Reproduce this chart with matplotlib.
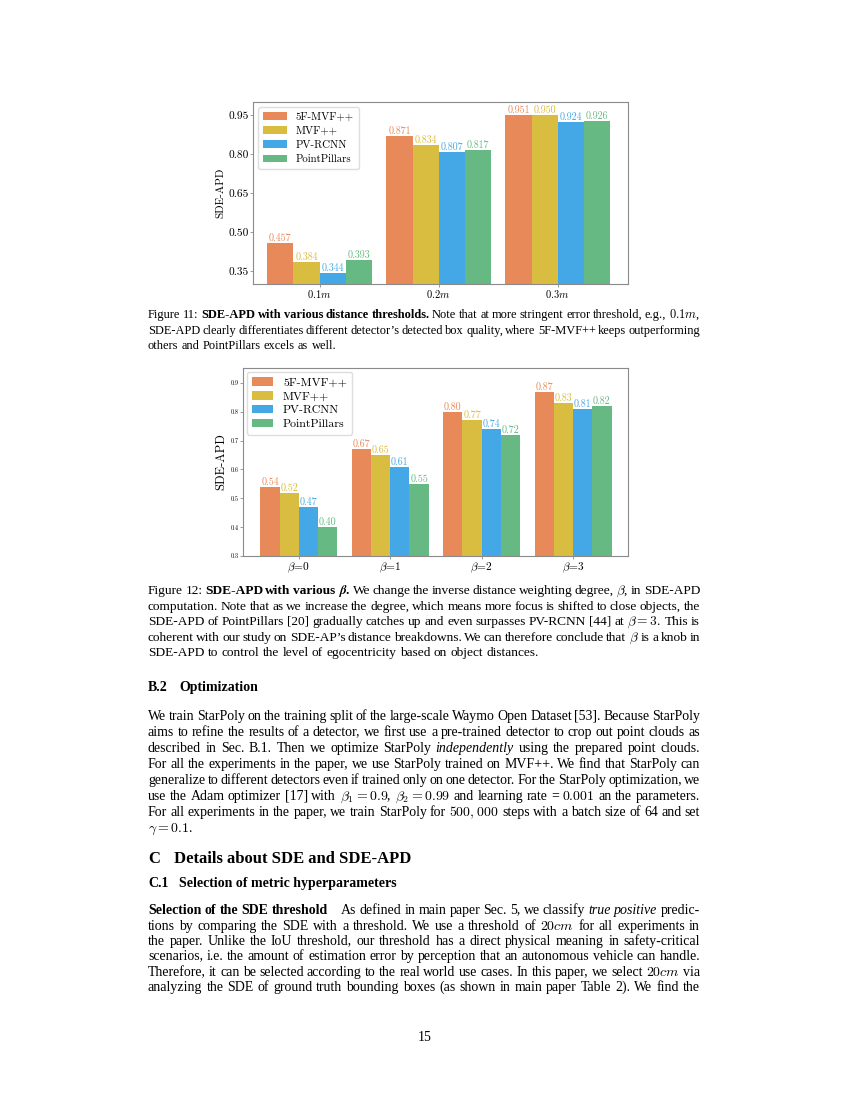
import math
import matplotlib
matplotlib.use("Agg")
import matplotlib.pyplot as plt
import numpy as np

plt.rcParams['mathtext.fontset'] = 'cm'
plt.rcParams['axes.unicode_minus'] = False

# ---------------- data ----------------
models = ["5F-MVF++", "MVF++", "PV-RCNN", "PointPillars"]
colors = ["#E8895A", "#D9BD40", "#45A8E6", "#66B983"]

thr_labels = ["0.1$m$", "0.2$m$", "0.3$m$"]
thr_values = {
    "5F-MVF++":     [0.457, 0.871, 0.951],
    "MVF++":        [0.384, 0.834, 0.950],
    "PV-RCNN":      [0.344, 0.807, 0.924],
    "PointPillars": [0.393, 0.817, 0.926],
}
thr_yticks = [0.35, 0.50, 0.65, 0.80, 0.95]

beta_labels = [r"$\beta\!=\!0$", r"$\beta\!=\!1$", r"$\beta\!=\!2$", r"$\beta\!=\!3$"]
beta_values = {
    "5F-MVF++":     [0.54, 0.67, 0.80, 0.87],
    "MVF++":        [0.52, 0.65, 0.77, 0.83],
    "PV-RCNN":      [0.47, 0.61, 0.74, 0.81],
    "PointPillars": [0.40, 0.55, 0.72, 0.82],
}
beta_yticks = [0.3, 0.4, 0.5, 0.6, 0.7, 0.8, 0.9]

W, H = 850, 1100
fig = plt.figure(figsize=(8.5, 11), dpi=100)
CHART_FONT = 'cmr10'

def style_axes(ax):
    for s in ax.spines.values():
        s.set_color('#8a8a8a')
        s.set_linewidth(0.8)
    ax.tick_params(length=2, width=0.6, color='#8a8a8a', pad=1.2)

def grouped(ax, labels, values, width, fmt, lab_fs, tick_fs, xt_fs, yticks, ylim, xlim,
            leg_fs, handlelength, ylab_fs, tick_fmt, labelspacing, borderaxespad):
    x = np.arange(len(labels))
    n = len(models)
    for i, m in enumerate(models):
        off = (i - (n - 1) / 2) * width
        bars = ax.bar(x + off, values[m], width, color=colors[i], label=m, zorder=2)
        lbls = ax.bar_label(bars, fmt=fmt, padding=0, color=colors[i], fontsize=lab_fs)
        for t in lbls:
            t.set_family(CHART_FONT)
    ax.set_xticks(x)
    ax.set_xticklabels(labels, fontsize=xt_fs, family=CHART_FONT)
    ax.set_yticks(yticks)
    ax.set_yticklabels([tick_fmt.format(v) for v in yticks], fontsize=tick_fs, family=CHART_FONT)
    ax.set_ylim(*ylim)
    ax.set_xlim(*xlim)
    ax.set_ylabel("SDE-APD", fontsize=ylab_fs, family=CHART_FONT, labelpad=2)
    style_axes(ax)
    leg = ax.legend(loc='upper left', prop={'family': CHART_FONT, 'size': leg_fs},
                    handlelength=handlelength, handleheight=0.75, framealpha=1,
                    edgecolor='#dddddd', borderpad=0.45, labelspacing=labelspacing,
                    borderaxespad=borderaxespad)
    leg.set_zorder(5)
    return ax

ax1 = fig.add_axes([253 / W, 1 - 284 / H, 375 / W, 182 / H])
grouped(ax1, thr_labels, thr_values, 0.22, '%.3f', 7.2, 8.2, 7.6, thr_yticks,
        (0.30, 1.0), (-0.56, 2.59), 7.8, 2.2, 8.0, "{:.2f}", 0.4, 0.5)

ax2 = fig.add_axes([243 / W, 1 - 556 / H, 385 / W, 188 / H])
grouped(ax2, beta_labels, beta_values, 0.21, '%.2f', 7.2, 4.5, 8.2, beta_yticks,
        (0.30, 0.952), (-0.61, 3.60), 8.6, 1.8, 9.0, "{:.1f}", 0.28, 0.3)

# ---------------- page text ----------------
FONT = 'Liberation Serif'
renderer = fig.canvas.get_renderer()
X0, X1 = 148, 700
try:
    from matplotlib.backends.backend_agg import get_hinting_flag
except Exception:
    get_hinting_flag = None

def split_words(s):
    words, cur, inm = [], '', False
    for ch in s:
        if ch == '$':
            inm = not inm
            cur += ch
        elif ch == ' ' and not inm:
            if cur:
                words.append(cur)
                cur = ''
        else:
            cur += ch
    if cur:
        words.append(cur)
    return words

def make_text(s, style, size):
    kw = dict(family=FONT, fontsize=size, va='baseline', ha='left', color='black')
    if style == 'b':
        kw['weight'] = 'bold'
    elif style == 'i':
        kw['style'] = 'italic'
    return fig.text(0, 0, s, **kw)

def tw(t):
    return t.get_window_extent(renderer).width

def baseline_y(t, Y0):
    """Compensate Agg's rounding of the glyph descent so words share one baseline."""
    s = t.get_text()
    if '$' in s or get_hinting_flag is None:
        return Y0
    try:
        font = renderer._prepare_font(t.get_fontproperties())
        font.set_text(s, 0, flags=get_hinting_flag())
        b = font.get_descent() / 64.0
        w, h = font.get_width_height()
        a = h / 64.0 - b
        return Y0 + math.floor(a + b) - math.floor(a) - b
    except Exception:
        return Y0

def layout(segments, size):
    items = []
    for seg in segments:
        if seg[1] == 'gap':
            if items:
                items[-1][2] += seg[2]
            continue
        for w in split_words(seg[0]):
            t = make_text(w, seg[1], size)
            items.append([t, tw(t), 0.0])
    return items

def fit_size(lines, size0, min_gap, x0=X0, x1=X1):
    scale = 1.0
    for segs in lines:
        items = layout(segs, size0)
        total = sum(it[1] for it in items) + sum(it[2] for it in items[:-1])
        ngaps = len(items) - 1
        for it in items:
            it[0].remove()
        avail = (x1 - x0) - ngaps * min_gap
        scale = min(scale, avail / total)
    return round(size0 * scale, 2)

def draw_line(y, segments, justify=True, size=10, x0=X0, x1=X1):
    items = layout(segments, size)
    total = sum(it[1] for it in items) + sum(it[2] for it in items[:-1])
    ngaps = len(items) - 1
    a = make_text('a a', 'n', size)
    b = make_text('aa', 'n', size)
    space = tw(a) - tw(b)
    a.remove(); b.remove()
    if justify and ngaps > 0:
        gap = (x1 - x0 - total) / ngaps
    else:
        gap = space
    x = x0
    Y0 = round(y)
    for it in items:
        yy = baseline_y(it[0], Y0)
        it[0].set_position((x / W, 1 - yy / H))
        x += it[1] + gap + it[2]

cap11 = [
    [("Figure 11:", 'n'), ("SDE-APD with various distance thresholds.", 'b'),
     ("Note that at more stringent error threshold, e.g., $0.1m$,", 'n')],
    [("SDE-APD clearly differentiates different detector\u2019s detected box quality, where 5F-MVF++ keeps outperforming", 'n')],
    [("others and PointPillars excels as well.", 'n')],
]
ys11 = [318, 334, 349]

cap12 = [
    [("Figure 12:", 'n'), ("SDE-APD with various $\\boldsymbol{\\beta}$.", 'b'),
     ("We change the inverse distance weighting degree, $\\beta$, in SDE-APD", 'n')],
    [("computation. Note that as we increase the degree, which means more focus is shifted to close objects, the", 'n')],
    [("SDE-APD of PointPillars [20] gradually catches up and even surpasses PV-RCNN [44] at $\\beta = 3$. This is", 'n')],
    [("coherent with our study on SDE-AP\u2019s distance breakdowns. We can therefore conclude that $\\beta$ is a knob in", 'n')],
    [("SDE-APD to control the level of egocentricity based on object distances.", 'n')],
]
ys12 = [594, 610, 625, 641, 656]

b2 = [
    [("We train StarPoly on the training split of the large-scale Waymo Open Dataset [53]. Because StarPoly", 'n')],
    [("aims to refine the results of a detector, we first use a pre-trained detector to crop out point clouds as", 'n')],
    [("described in Sec. B.1. Then we optimize StarPoly", 'n'), ("independently", 'i'),
     ("using the prepared point clouds.", 'n')],
    [("For all the experiments in the paper, we use StarPoly trained on MVF++. We find that StarPoly can", 'n')],
    [("generalize to different detectors even if trained only on one detector. For the StarPoly optimization, we", 'n')],
    [("use the Adam optimizer [17] with $\\beta_1 = 0.9$, $\\beta_2 = 0.99$ and learning rate = $0.001$ an the parameters.", 'n')],
    [("For all experiments in the paper, we train StarPoly for $500,000$ steps with a batch size of 64 and set", 'n')],
    [("$\\gamma = 0.1$.", 'n')],
]
ysb2 = [720 + 16 * i for i in range(8)]

c1 = [
    [("Selection of the SDE threshold", 'b'), ('', 'gap', 10),
     ("As defined in main paper Sec. 5, we classify", 'n'), ("true positive", 'i'), ("predic-", 'n')],
    [("tions by comparing the SDE with a threshold. We use a threshold of $20cm$ for all experiments in", 'n')],
    [("the paper. Unlike the IoU threshold, our threshold has a direct physical meaning in safety-critical", 'n')],
    [("scenarios, i.e. the amount of estimation error by perception that an autonomous vehicle can handle.", 'n')],
    [("Therefore, it can be selected according to the real world use cases. In this paper, we select $20cm$ via", 'n')],
    [("analyzing the SDE of ground truth bounding boxes (as shown in main paper Table 2). We find the", 'n')],
]
ysc1 = [914, 930, 945, 960, 976, 991]

for lines, ys, last_just in [(cap11, ys11, False), (cap12, ys12, False),
                             (b2, ysb2, False), (c1, ysc1, True)]:
    size = min(10.0, fit_size(lines[:-1] if not last_just else lines, 10.0, 2.2))
    for k, (segs, y) in enumerate(zip(lines, ys)):
        just = (k < len(lines) - 1) or last_just
        draw_line(y, segs, justify=just, size=size)

# headings
def heading(y, num, title, x2, size):
    fig.text(X0 / W, 1 - y / H, num, family=FONT, weight='bold', fontsize=size, va='baseline')
    fig.text(x2 / W, 1 - y / H, title, family=FONT, weight='bold', fontsize=size, va='baseline')

heading(691, "B.2", "Optimization", 179, 10)
heading(863, "C", "Details about SDE and SDE-APD", 174, 12)
heading(887, "C.1", "Selection of metric hyperparameters", 179, 10)

fig.text(425 / W, 1 - 1041 / H, "15", family=FONT, fontsize=10, va='baseline', ha='center')

fig.savefig("out.png", dpi=100)
